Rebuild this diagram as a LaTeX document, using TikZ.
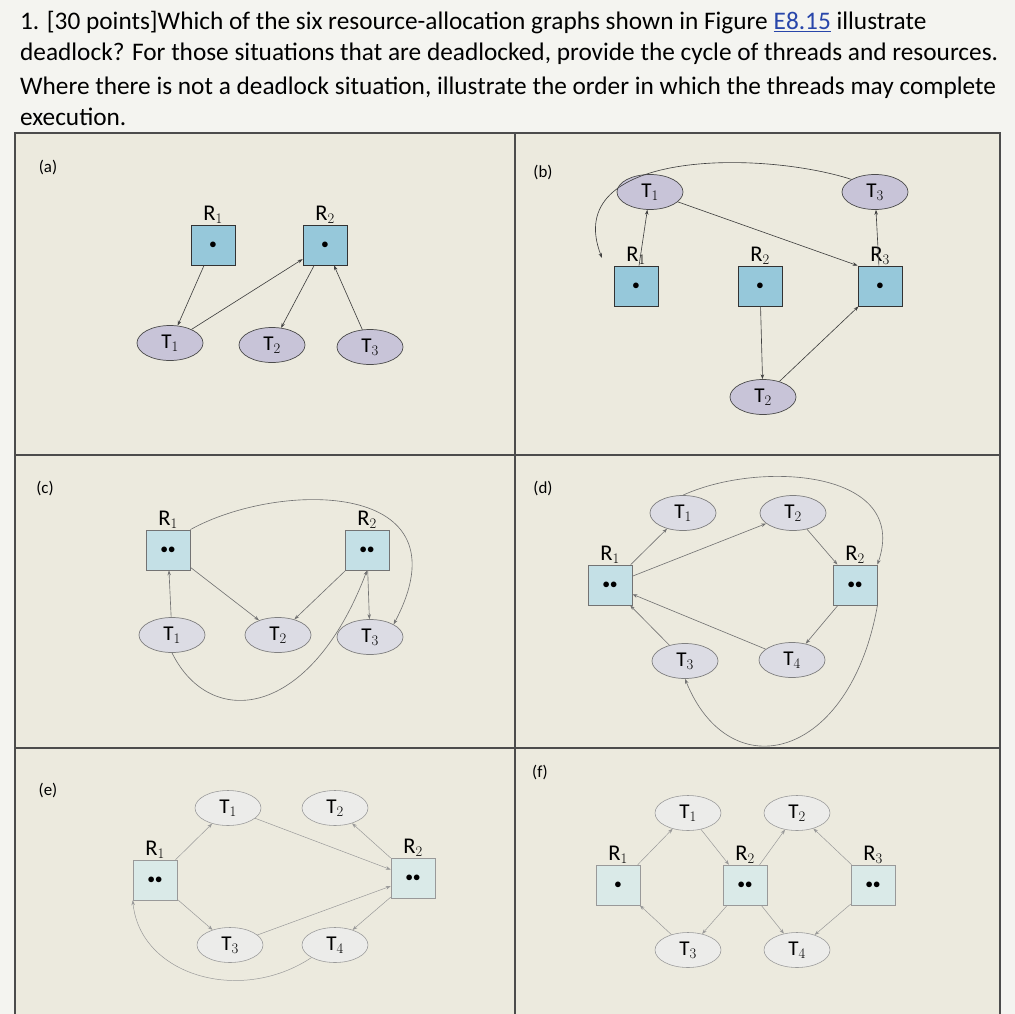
\documentclass[tikz,border=0pt]{standalone}
\usepackage{fontspec}
\setmainfont{Carlito}
\usetikzlibrary{arrows.meta,shapes.geometric,positioning}
\definecolor{pagebg}{RGB}{244,244,240}
\definecolor{panelbg}{RGB}{236,234,222}
\definecolor{resdark}{RGB}{150,200,218}
\definecolor{resmid}{RGB}{196,224,230}
\definecolor{reslight}{RGB}{218,234,232}
\definecolor{thrdark}{RGB}{200,196,216}
\definecolor{thrmid}{RGB}{220,220,228}
\definecolor{thrlight}{RGB}{236,236,234}
\definecolor{linkblue}{RGB}{40,70,170}

\begin{document}
\begin{tikzpicture}[x=0.05cm, y=-0.05cm,
    res/.style={rectangle, draw=black!80, line width=1.2pt, fill=resdark, minimum width=2.2cm, minimum height=2cm, font=\fontsize{20}{20}\selectfont},
    resb/.style={res, fill=resmid, draw=black!55},
    resc/.style={res, fill=reslight, draw=black!40, line width=0.8pt},
    thr/.style={ellipse, draw=black!70, line width=1pt, fill=thrdark, minimum width=3.3cm, minimum height=1.75cm, inner sep=0pt, font=\fontsize{30}{30}\selectfont},
    thrb/.style={thr, fill=thrmid, draw=black!50},
    thrc/.style={thr, fill=thrlight, draw=black!40, line width=0.8pt},
    lbl/.style={font=\fontsize{32}{32}\selectfont, inner sep=1pt},
    tag/.style={font=\fontsize{24}{24}\selectfont},
    edge/.style={-{Stealth[length=7pt,width=5pt]}, line width=0.9pt, black!75},
    edgeb/.style={edge, black!55},
    edgec/.style={edge, black!40, line width=0.7pt},
    grid/.style={line width=1.5pt, black!70}
]
\useasboundingbox (0,0) rectangle (1015,1014);
\fill[pagebg] (0,0) rectangle (1015,1014);
\fill[panelbg] (15,133) rectangle (1000,1014);

% question text
\begin{scope}[every node/.style={anchor=base west, inner sep=0pt, font=\fontsize{36}{36}\selectfont}]
\node (q1) at (20,30) {1. [30 points]Which of the six resource-allocation graphs shown in Figure \textcolor{linkblue}{\underline{E8.15}} illustrate};
\node (q2) at (20,61) {deadlock? For those situations that are deadlocked, provide the cycle of threads and resources.};
\node (q3) at (20,95) {Where there is not a deadlock situation, illustrate the order in which the threads may complete};
\node (q4) at (20,126) {execution.};
\end{scope}

% grid
\draw[grid] (15,1014) -- (15,133) -- (1000,133) -- (1000,1014);
\draw[grid] (515,133) -- (515,1014);
\draw[grid] (15,455) -- (1000,455);
\draw[grid] (15,748) -- (1000,748);

% (a)
\node[tag] (ta) at (48,168) {(a)};
\node[res] (aR1) at (213,245) {$\bullet$};
\node[res] (aR2) at (325,245) {$\bullet$};
\node[lbl, above=0pt of aR1] {R$_1$};
\node[lbl, above=0pt of aR2] {R$_2$};
\node[thr] (aT1) at (170,343) {T$_1$};
\node[thr] (aT2) at (272,345) {T$_2$};
\node[thr] (aT3) at (370,347) {T$_3$};
\draw[edge] (aR1) -- (aT1);
\draw[edge] (aT1) -- (aR2);
\draw[edge] (aR2) -- (aT2);
\draw[edge] (aT3) -- (aR2);

% (b)
\node[tag] (tb) at (543,172) {(b)};
\node[thr] (bT1) at (650,192) {T$_1$};
\node[thr] (bT3) at (875,192) {T$_3$};
\node[res] (bR1) at (636,286) {$\bullet$};
\node[res] (bR2) at (760,286) {$\bullet$};
\node[res] (bR3) at (880,286) {$\bullet$};
\node[lbl, above=0pt of bR1] {R$_1$};
\node[lbl, above=0pt of bR2] {R$_2$};
\node[lbl, above=0pt of bR3] {R$_3$};
\node[thr] (bT2) at (763,397) {T$_2$};
\draw[edge] (bR1) -- (bT1);
\draw[edge] (bT1) -- (bR3.north west);
\draw[edge] (bR3) -- (bT3);
\draw[edge] (bR2) -- (bT2);
\draw[edge] (bT2) -- (bR3);
\draw[edge] (bT3.north west) .. controls (760,150) and (560,150) .. (602,258);

% (c)
\node[tag] (tc) at (45,488) {(c)};
\node[resb] (cR1) at (168,550) {$\bullet\bullet$};
\node[resb] (cR2) at (367,550) {$\bullet\bullet$};
\node[lbl, above=0pt of cR1] {R$_1$};
\node[lbl, above=0pt of cR2] {R$_2$};
\node[thrb] (cT1) at (172,635) {T$_1$};
\node[thrb] (cT2) at (278,635) {T$_2$};
\node[thrb] (cT3) at (370,637) {T$_3$};
\draw[edgeb] (cT1) -- (cR1);
\draw[edgeb] (cR1) -- (cT2);
\draw[edgeb] (cR2) -- (cT2);
\draw[edgeb] (cR2) -- (cT3);
\draw[edgeb] (cR1.north east) .. controls (280,480) and (470,480) .. (cT3.north east);
\draw[edgeb] (cT1.south) .. controls (210,730) and (310,720) .. (cR2.south);

% (d)
\node[tag] (td) at (543,488) {(d)};
\node[resb] (dR1) at (610,585) {$\bullet\bullet$};
\node[resb] (dR2) at (855,585) {$\bullet\bullet$};
\node[lbl, above=0pt of dR1] {R$_1$};
\node[lbl, above=0pt of dR2] {R$_2$};
\node[thrb] (dT1) at (683,513) {T$_1$};
\node[thrb] (dT2) at (793,513) {T$_2$};
\node[thrb] (dT3) at (685,661) {T$_3$};
\node[thrb] (dT4) at (792,660) {T$_4$};
\draw[edgeb] (dR1) -- (dT1);
\draw[edgeb] (dR1) -- (dT2);
\draw[edgeb] (dT2) -- (dR2);
\draw[edgeb] (dR2) -- (dT4);
\draw[edgeb] (dT4) -- (dR1);
\draw[edgeb] (dT3) -- (dR1);
\draw[edgeb] (dT1.north) .. controls (760,460) and (910,470) .. (dR2.north east);
\draw[edgeb] (dR2.south east) .. controls (850,760) and (730,790) .. (dT3.south);

% (e)
\node[tag] (te) at (48,790) {(e)};
\node[resc] (eR1) at (155,880) {$\bullet\bullet$};
\node[resc] (eR2) at (413,878) {$\bullet\bullet$};
\node[lbl, above=0pt of eR1] {R$_1$};
\node[lbl, above=0pt of eR2] {R$_2$};
\node[thrc] (eT1) at (228,808) {T$_1$};
\node[thrc] (eT2) at (335,808) {T$_2$};
\node[thrc] (eT3) at (230,945) {T$_3$};
\node[thrc] (eT4) at (335,945) {T$_4$};
\draw[edgec] (eR1) -- (eT1);
\draw[edgec] (eT1) -- (eR2);
\draw[edgec] (eR2) -- (eT2);
\draw[edgec] (eR1) -- (eT3);
\draw[edgec] (eT3) -- (eR2);
\draw[edgec] (eR2) -- (eT4);
\draw[edgec] (eT4.south west) .. controls (240,1005) and (140,975) .. (eR1.south west);

% (f)
\node[tag] (tf) at (540,772) {(f)};
\node[resc] (fR1) at (618,885) {$\bullet$};
\node[resc] (fR2) at (745,885) {$\bullet\bullet$};
\node[resc] (fR3) at (873,885) {$\bullet\bullet$};
\node[lbl, above=0pt of fR1] {R$_1$};
\node[lbl, above=0pt of fR2] {R$_2$};
\node[lbl, above=0pt of fR3] {R$_3$};
\node[thrc] (fT1) at (688,813) {T$_1$};
\node[thrc] (fT2) at (797,813) {T$_2$};
\node[thrc] (fT3) at (688,950) {T$_3$};
\node[thrc] (fT4) at (797,950) {T$_4$};
\draw[edgec] (fR1) -- (fT1);
\draw[edgec] (fT1) -- (fR2);
\draw[edgec] (fR2) -- (fT2);
\draw[edgec] (fR3) -- (fT2);
\draw[edgec] (fT3) -- (fR1);
\draw[edgec] (fR2) -- (fT3);
\draw[edgec] (fR2) -- (fT4);
\draw[edgec] (fR3) -- (fT4);
\end{tikzpicture}
\end{document}
